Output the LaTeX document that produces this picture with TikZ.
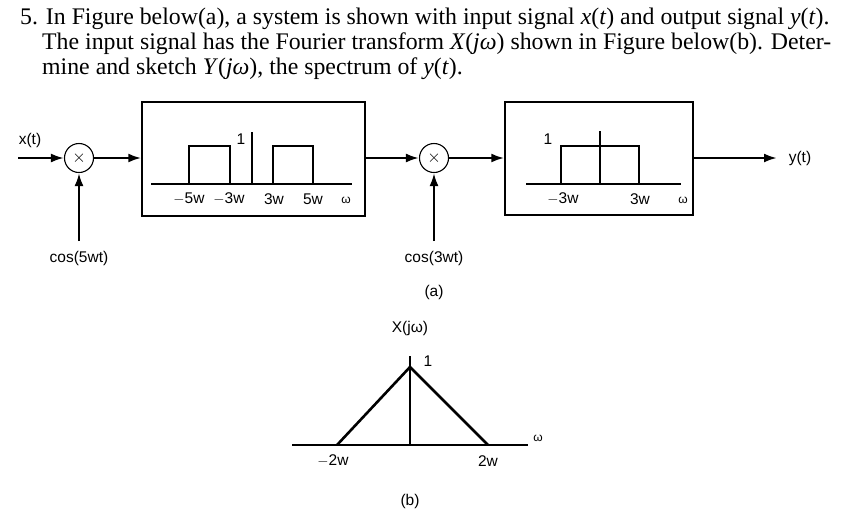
\documentclass[tikz,border=0pt]{standalone}
\usepackage{fontspec}
\setmainfont{Liberation Serif}
\newfontfamily\lsans{Liberation Sans}
\usetikzlibrary{arrows.meta}
\begin{document}
\begin{tikzpicture}[x=1pt,y=-1pt,
  lab/.style={font=\lsans\fontsize{15.5}{18}\selectfont,inner sep=0pt},
  om/.style={font=\lsans\fontsize{12}{14}\selectfont,inner sep=0pt},
  hdr/.style={font=\fontsize{23.8}{26}\selectfont,inner sep=0pt,anchor=base west},
  sig/.style={line width=2.4pt,-{Latex[length=13pt,width=9pt]}},
  thin/.style={line width=1.1pt},
  mult/.style={circle,draw,thin,minimum size=29pt,inner sep=0pt,font=\fontsize{18}{20}\selectfont},
  blk/.style={draw,line width=1.4pt}]
\useasboundingbox (0,0) rectangle (852,515);
% header
\node[hdr] (h1) at (20,24) {5. In Figure below(a), a system is shown with input signal \textit{x}(\textit{t}) and output signal \textit{y}(\textit{t}).};
\node[hdr] (h2) at (42,49) {The input signal has the Fourier transform \textit{X}(\textit{j\char"03C9}) shown in Figure below(b). Deter-};
\node[hdr] (h3) at (42,74) {mine and sketch \textit{Y}(\textit{j\char"03C9}), the spectrum of \textit{y}(\textit{t}).};
% system
\coordinate (in) at (18,158);
\node[lab] (xt) at (30,140) {x(t)};
\node[mult] (m1) at (79,158) {$\times$};
\node[mult] (m2) at (434,158) {$\times$};
\node[blk,minimum width=223pt,minimum height=114pt] (b1) at (253.5,159) {};
\node[blk,minimum width=188pt,minimum height=113pt] (b2) at (599,158.5) {};
\coordinate (out) at (777,158);
\node[lab] (yt) at (800,158) {y(t)};
\node[lab] (c5) at (79,258) {cos(5wt)};
\node[lab] (c3) at (434,258) {cos(3wt)};
\coordinate (c5t) at (79,241);
\coordinate (c3t) at (434,241);
\draw[sig] (in) -- (m1);
\draw[sig] (m1) -- (b1.west|-m1);
\draw[sig] (b1.east|-m2) -- (m2);
\draw[sig] (m2) -- (b2.west|-m2);
\draw[sig] (b2.east|-m2) -- (out);
\draw[sig] (c5t) -- (m1);
\draw[sig] (c3t) -- (m2);
% filter 1
\draw[thin] (151,184) -- (352,184);
\draw[thin] (252,184) -- (252,132);
\draw[thin] (189,184) -- (189,146) -- (230,146) -- (230,184);
\draw[thin] (273,184) -- (273,146) -- (313,146) -- (313,184);
\node[lab] (one1) at (241,139) {1};
\node[lab] (f1a) at (189,199) {$-$5w};
\node[lab] (f1b) at (229,199) {$-$3w};
\node[lab] (f1c) at (274,199) {3w};
\node[lab] (f1d) at (313,199) {5w};
\node[om] (f1e) at (346,200) {\char"03C9};
% filter 2
\draw[thin] (526,184) -- (681,184);
\draw[thin] (600,184) -- (600,131);
\draw[thin] (561,184) -- (561,146) -- (639,146) -- (639,184);
\node[lab] (one2) at (548,139) {1};
\node[lab] (f2a) at (563,199) {$-$3w};
\node[lab] (f2b) at (640,199) {3w};
\node[om] (f2c) at (683,200) {\char"03C9};
\node[lab] (a) at (434,292) {(a)};
% (b)
\node[lab] (X) at (410,328) {X(j\char"03C9)};
\draw[thin] (292,445) -- (528,445);
\draw[thin] (410,445) -- (410,356);
\draw[line width=2.6pt,line join=miter] (337,445) -- (410,367) -- (488,445);
\node[lab] (one3) at (428,361) {1};
\node[lab] (t1) at (333,461) {$-$2w};
\node[lab] (t2) at (488,461) {2w};
\node[om] (t3) at (538,438) {\char"03C9};
\node[lab] (bb) at (410,501) {(b)};
\end{tikzpicture}
\end{document}
